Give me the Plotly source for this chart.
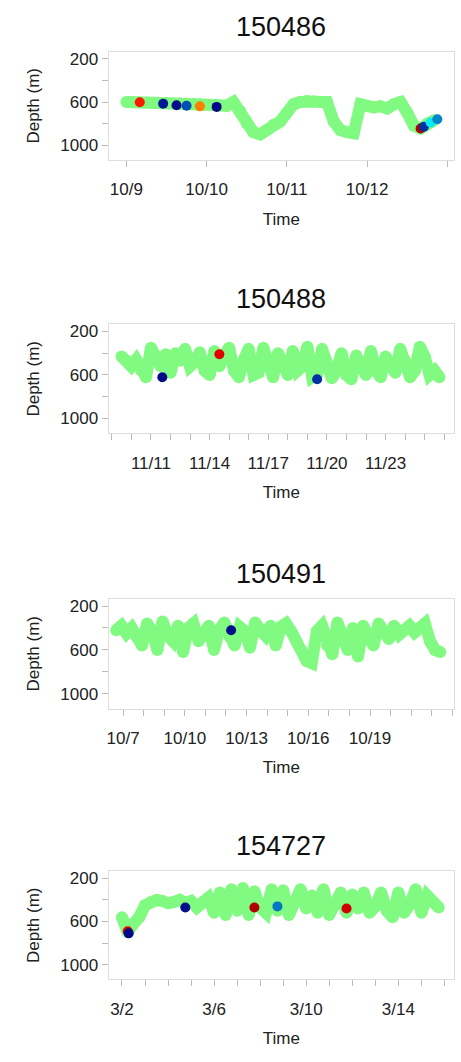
import pandas as pd
import plotly.graph_objects as go

# tag ids and depth records (m)
tags = ['150486', '150488', '150491', '154727']

start_1 = '2014-10-09 00:00'
step_1 = '2h'
depth_1 = [600, 600, 602, 605, 605, 608, 610, 612, 612, 615, 618, 620,
           625, 628, 632, 635, 600, 680, 800, 880, 900, 860, 810, 780,
           700, 620, 600, 590, 595, 600, 600, 780, 860, 880, 890, 620,
           640, 650, 640, 660, 620, 600, 700, 820, 845, 800, 770]
hi_time_1 = ['2014-10-09 04:00', '2014-10-09 11:00', '2014-10-09 15:00',
             '2014-10-09 18:00', '2014-10-09 22:00', '2014-10-10 03:00',
             '2014-10-12 16:00', '2014-10-12 17:00', '2014-10-12 19:00',
             '2014-10-12 21:00']
hi_depth_1 = [602, 615, 630, 635, 640, 645, 845, 830, 790, 760]
hi_c_1 = [0.85, 0.05, 0.03, 0.15, 0.75, 0.02, 0.95, 0.1, 0.35, 0.22]

start_2 = '2014-11-09 12:00'
step_2 = '6h'
depth_2 = [430, 470, 520, 460, 560, 620, 350, 420, 520, 410, 580, 400,
           470, 360, 520, 480, 390, 560, 600, 380, 520, 420, 350, 560,
           620, 460, 360, 600, 580, 350, 470, 620, 400, 530, 600, 380,
           560, 520, 340, 620, 590, 360, 480, 630, 560, 400, 600, 640,
           420, 520, 600, 380, 560, 620, 430, 510, 580, 360, 470, 620,
           560, 340, 430, 600, 560, 620]
hi_time_2 = ['2014-11-11 14:00', '2014-11-14 12:00', '2014-11-19 12:00']
hi_depth_2 = [620, 410, 640]
hi_c_2 = [0.02, 0.9, 0.1]

start_3 = '2014-10-06 16:00'
step_3 = '6h'
depth_3 = [420, 380, 450, 400, 480, 560, 360, 430, 600, 340, 470, 520,
           380, 620, 400, 360, 520, 440, 380, 600, 420, 350, 480, 560,
           390, 430, 580, 350, 420, 470, 380, 560, 390, 360, 430, 520,
           600, 700, 720, 430, 380, 560, 640, 350, 480, 600, 400, 660,
           380, 470, 560, 360, 420, 500, 380, 460, 420, 380, 440, 400,
           360, 520, 600, 620]
hi_time_3 = ['2014-10-12 06:00']
hi_depth_3 = [420]
hi_c_3 = [0.03]

start_4 = '2015-03-02 00:00'
step_4 = '6h'
depth_4 = [560, 700, 620, 560, 450, 420, 400, 410, 430, 420, 400, 430,
           410, 470, 420, 380, 520, 330, 540, 300, 500, 290, 540, 320,
           470, 520, 300, 500, 310, 540, 420, 300, 480, 360, 520, 300,
           540, 450, 330, 520, 350, 480, 330, 520, 460, 330, 500, 560,
           330, 520, 440, 300, 520, 360, 420, 470]
hi_time_4 = ['2015-03-02 06:00', '2015-03-02 07:00', '2015-03-04 18:00',
             '2015-03-07 18:00', '2015-03-08 18:00', '2015-03-11 18:00']
hi_depth_4 = [690, 710, 470, 470, 460, 480]
hi_c_4 = [0.9, 0.02, 0.03, 0.95, 0.2, 0.92]

ticks_1 = ['2014-10-09', '2014-10-10', '2014-10-11', '2014-10-12']
ticks_2 = ['2014-11-11', '2014-11-14', '2014-11-17', '2014-11-20', '2014-11-23']
ticks_3 = ['2014-10-07', '2014-10-10', '2014-10-13', '2014-10-16', '2014-10-19']
ticks_4 = ['2015-03-02', '2015-03-06', '2015-03-10', '2015-03-14']

xranges = [['2014-10-08 18:40', '2014-10-13 02:00'],
           ['2014-11-08 20:00', '2014-11-26 12:00'],
           ['2014-10-06 07:00', '2014-10-23 02:00'],
           ['2015-03-01 10:00', '2015-03-16 10:00']]

panels = [(start_1, step_1, depth_1, hi_time_1, hi_depth_1, hi_c_1, ticks_1),
          (start_2, step_2, depth_2, hi_time_2, hi_depth_2, hi_c_2, ticks_2),
          (start_3, step_3, depth_3, hi_time_3, hi_depth_3, hi_c_3, ticks_3),
          (start_4, step_4, depth_4, hi_time_4, hi_depth_4, hi_c_4, ticks_4)]

jet = [[0, 'rgb(0,0,131)'], [0.125, 'rgb(0,60,170)'], [0.375, 'rgb(5,255,255)'],
       [0.5, 'rgb(128,255,128)'], [0.625, 'rgb(255,255,0)'],
       [0.875, 'rgb(250,0,0)'], [1, 'rgb(128,0,0)']]
green = 'rgb(128,250,128)'

H = 1062
boxes = [(50, 158), (323, 432), (598, 708), (871, 979)]
font = 'Liberation Sans, Arial, sans-serif'

fig = go.Figure()
for i, (st, sp, dep, ht, hd, hc, tk) in enumerate(panels):
    n = str(i + 1) if i else ''
    t = pd.date_range(st, periods=len(dep), freq=sp)
    fig.add_trace(go.Scatter(x=t, y=dep, mode='lines+markers',
                             line=dict(color=green, width=12),
                             marker=dict(size=12, color=green),
                             xaxis='x' + n, yaxis='y' + n, showlegend=False))
    fig.add_trace(go.Scatter(x=pd.to_datetime(ht), y=hd, mode='markers',
                             marker=dict(size=10, color=hc, colorscale=jet,
                                         cmin=0, cmax=1),
                             xaxis='x' + n, yaxis='y' + n, showlegend=False))
    top, bot = boxes[i]
    ax = dict(domain=[107 / 461, 454 / 461], type='date', range=xranges[i],
              tickvals=tk, ticktext=[pd.Timestamp(v).strftime('%-m/%-d') for v in tk],
              ticks='outside', ticklen=6, tickcolor='#bbb', showgrid=False,
              showline=True, linecolor='#ddd', mirror=True, zeroline=False,
              ticklabelstandoff=8, tickfont=dict(size=17, color='#222'),
              title=dict(text='Time', font=dict(size=17, color='#222'), standoff=14),
              minor=dict(dtick=86400000, ticks='outside', ticklen=6, tickcolor='#bbb'),
              anchor='y' + n)
    ay = dict(domain=[1 - bot / H, 1 - top / H], range=[1135, 135],
              tickvals=[200, 600, 1000], ticks='outside', ticklen=6,
              tickcolor='#bbb', showgrid=False, showline=True, linecolor='#ddd',
              mirror=True, zeroline=False, tickfont=dict(size=17, color='#222'),
              title=dict(text='Depth (m)', font=dict(size=17, color='#222'), standoff=16),
              minor=dict(tickvals=[400, 800], ticks='outside', ticklen=6, tickcolor='#bbb'),
              anchor='x' + n)
    fig.layout['xaxis' + n] = ax
    fig.layout['yaxis' + n] = ay
    fig.add_annotation(text=tags[i], x=280 / 461, y=1 - (top - 25) / H,
                       xref='paper', yref='paper', showarrow=False,
                       yanchor='middle', font=dict(size=27, color='#111'))

fig.update_layout(width=461, height=1062, margin=dict(l=0, r=0, t=0, b=0),
                  plot_bgcolor='white', paper_bgcolor='white',
                  font=dict(family=font))
fig.write_html('out.html', config={'displayModeBar': False},
               post_script="document.body.style.margin='0';")
